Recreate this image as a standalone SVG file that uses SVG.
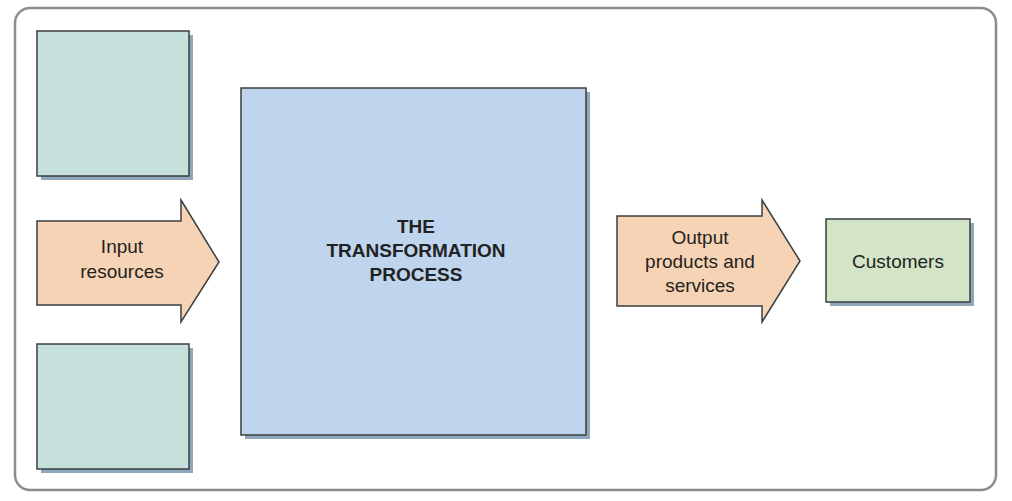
<svg xmlns="http://www.w3.org/2000/svg" width="1012" height="501" viewBox="0 0 1012 501">
<style>
.sh{fill:#8ea7ba}
.b{stroke:#3a3f3f;stroke-width:1.5}
.t{font-family:"Liberation Sans",Arial,sans-serif;font-size:19px;fill:#222;text-anchor:middle}
.tb{font-family:"Liberation Sans",Arial,sans-serif;font-size:19px;font-weight:bold;fill:#222;text-anchor:middle}
</style>
<rect x="0" y="0" width="1012" height="501" fill="#fff"/>
<rect x="15" y="8" width="981" height="482" rx="15" fill="#fff" stroke="#8c8c8c" stroke-width="2.5"/>
<g id="input-top"><rect class="sh" x="41" y="35" width="152" height="145"/><rect class="b" x="37" y="31" width="152" height="145" fill="#c6e0dc"/></g>
<g id="input-bottom"><rect class="sh" x="41" y="348" width="152" height="125"/><rect class="b" x="37" y="344" width="152" height="125" fill="#c6e0dc"/></g>
<g id="input-resources"><polygon class="b" points="37,221 181,221 181,200 219,262 181,322 181,305 37,305" fill="#f7d3b5"/>
<text class="t" x="122" y="253">Input</text><text class="t" x="122" y="278">resources</text></g>
<g id="transformation"><rect class="sh" x="245" y="92" width="345" height="347"/><rect class="b" x="241" y="88" width="345" height="347" fill="#bfd5ee"/>
<text class="tb" x="416" y="233">THE</text><text class="tb" x="416" y="257">TRANSFORMATION</text><text class="tb" x="416" y="281">PROCESS</text></g>
<g id="output"><polygon class="b" points="617,216 762,216 762,200 800,261 762,322 762,306 617,306" fill="#f7d3b5"/>
<text class="t" x="700" y="244">Output</text><text class="t" x="700" y="268">products and</text><text class="t" x="700" y="292">services</text></g>
<g id="customers"><rect class="sh" x="830" y="223" width="144" height="83"/><rect class="b" x="826" y="219" width="144" height="83" fill="#d3e5c6"/>
<text class="t" x="898" y="268">Customers</text></g>
<g id="connectors"></g>
</svg>
